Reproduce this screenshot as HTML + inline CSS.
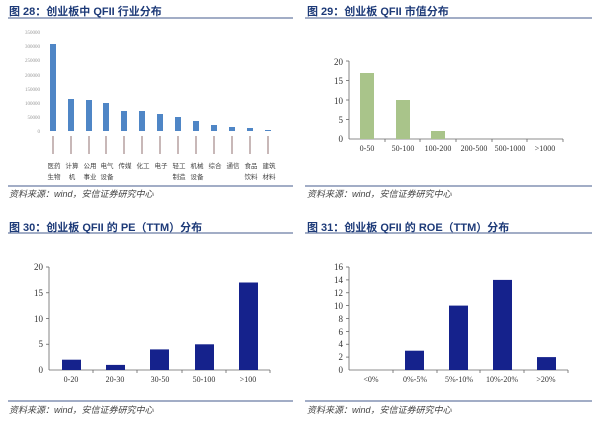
<!DOCTYPE html><html><head><meta charset="utf-8"><style>body{margin:0;background:#fff}svg{display:block}
.t{font:bold 11px "Liberation Sans","Noto Sans CJK SC",sans-serif;fill:#1d3a78}
.s{font:italic 9px "Liberation Sans","Noto Sans CJK SC",sans-serif;fill:#444}
.a{font:9px "Liberation Serif",serif;fill:#333}
.sm{font:5px "Liberation Serif",serif;fill:#999}
.c{font:6.5px "Liberation Sans","Noto Sans CJK SC",sans-serif;fill:#444}
</style></head><body>
<svg width="600" height="432" xmlns="http://www.w3.org/2000/svg">
<g stroke="#6a7ca3" stroke-width="1.2">
<line x1="8" y1="18" x2="293" y2="18"/><line x1="8" y1="186" x2="293" y2="186"/>
<line x1="305" y1="18" x2="592" y2="18"/><line x1="305" y1="186" x2="592" y2="186"/>
<line x1="8" y1="233" x2="293" y2="233"/><line x1="8" y1="401" x2="293" y2="401"/>
<line x1="305" y1="233" x2="592" y2="233"/><line x1="305" y1="401" x2="592" y2="401"/>
</g>
<text class="t" x="9" y="15">图 28：创业板中 QFII 行业分布</text>
<text class="t" x="307" y="15">图 29：创业板 QFII 市值分布</text>
<text class="t" x="9" y="231">图 30：创业板 QFII 的 PE（TTM）分布</text>
<text class="t" x="307" y="231">图 31：创业板 QFII 的 ROE（TTM）分布</text>
<text class="s" x="9" y="197">资料来源：wind，安信证券研究中心</text>
<text class="s" x="307" y="197">资料来源：wind，安信证券研究中心</text>
<text class="s" x="9" y="413">资料来源：wind，安信证券研究中心</text>
<text class="s" x="307" y="413">资料来源：wind，安信证券研究中心</text>

<!-- chart 28 -->
<g class="sm" text-anchor="end">
<text x="40" y="34">350000</text><text x="40" y="48">300000</text><text x="40" y="62">250000</text><text x="40" y="77">200000</text><text x="40" y="91">150000</text><text x="40" y="105">100000</text><text x="40" y="119">50000</text><text x="40" y="133">0</text>
</g>
<g fill="#4f86c6">
<rect x="50" y="44" width="6" height="87"/><rect x="68" y="99" width="6" height="32"/><rect x="86" y="100" width="6" height="31"/><rect x="103" y="103" width="6" height="28"/><rect x="121" y="111" width="6" height="20"/><rect x="139" y="111" width="6" height="20"/><rect x="157" y="114" width="6" height="17"/><rect x="175" y="117" width="6" height="14"/><rect x="193" y="121" width="6" height="10"/><rect x="211" y="125" width="6" height="6"/><rect x="229" y="127" width="6" height="4"/><rect x="247" y="128" width="6" height="3"/><rect x="265" y="130" width="6" height="1"/>
</g>
<g fill="#c8b8b8">
<rect x="52" y="136" width="2" height="18"/><rect x="70" y="136" width="2" height="18"/><rect x="88" y="136" width="2" height="18"/><rect x="105" y="136" width="2" height="18"/><rect x="123" y="136" width="2" height="18"/><rect x="141" y="136" width="2" height="18"/><rect x="159" y="136" width="2" height="18"/><rect x="177" y="136" width="2" height="18"/><rect x="195" y="136" width="2" height="18"/><rect x="213" y="136" width="2" height="18"/><rect x="231" y="136" width="2" height="18"/><rect x="249" y="136" width="2" height="18"/><rect x="267" y="136" width="2" height="18"/>
</g>
<g class="c" text-anchor="middle">
<text x="54" y="168">医药</text><text x="54" y="179">生物</text>
<text x="72" y="168">计算</text><text x="72" y="179">机</text>
<text x="90" y="168">公用</text><text x="90" y="179">事业</text>
<text x="107" y="168">电气</text><text x="107" y="179">设备</text>
<text x="125" y="168">传媒</text><text x="143" y="168">化工</text><text x="161" y="168">电子</text>
<text x="179" y="168">轻工</text><text x="179" y="179">制造</text>
<text x="197" y="168">机械</text><text x="197" y="179">设备</text>
<text x="215" y="168">综合</text><text x="233" y="168">通信</text>
<text x="251" y="168">食品</text><text x="251" y="179">饮料</text>
<text x="269" y="168">建筑</text><text x="269" y="179">材料</text>
</g>

<!-- chart 29 -->
<g stroke="#666" stroke-width="0.8">
<line x1="349" y1="61" x2="349" y2="139"/><line x1="349" y1="139" x2="563" y2="139"/>
<line x1="346" y1="61" x2="349" y2="61"/><line x1="346" y1="80.5" x2="349" y2="80.5"/><line x1="346" y1="100" x2="349" y2="100"/><line x1="346" y1="119.5" x2="349" y2="119.5"/>
<line x1="385" y1="139" x2="385" y2="142"/><line x1="420" y1="139" x2="420" y2="142"/><line x1="456" y1="139" x2="456" y2="142"/><line x1="492" y1="139" x2="492" y2="142"/><line x1="527" y1="139" x2="527" y2="142"/><line x1="563" y1="139" x2="563" y2="142"/>
</g>
<g class="a" text-anchor="end"><text x="343" y="65">20</text><text x="343" y="84">15</text><text x="343" y="104">10</text><text x="343" y="123">5</text><text x="343" y="142">0</text></g>
<g fill="#a9c48a"><rect x="360" y="73" width="14" height="66"/><rect x="396" y="100" width="14" height="39"/><rect x="431" y="131" width="14" height="8"/></g>
<g class="a" text-anchor="middle" style="font-size:8px"><text x="367" y="151">0-50</text><text x="403" y="151">50-100</text><text x="438" y="151">100-200</text><text x="474" y="151">200-500</text><text x="510" y="151">500-1000</text><text x="545" y="151">&gt;1000</text></g>

<!-- chart 30 -->
<g stroke="#666" stroke-width="0.8">
<line x1="49" y1="267" x2="49" y2="370"/><line x1="49" y1="370" x2="270" y2="370"/>
<line x1="46" y1="267" x2="49" y2="267"/><line x1="46" y1="292.75" x2="49" y2="292.75"/><line x1="46" y1="318.5" x2="49" y2="318.5"/><line x1="46" y1="344.25" x2="49" y2="344.25"/>
<line x1="93" y1="370" x2="93" y2="373"/><line x1="137" y1="370" x2="137" y2="373"/><line x1="182" y1="370" x2="182" y2="373"/><line x1="226" y1="370" x2="226" y2="373"/><line x1="270" y1="370" x2="270" y2="373"/>
</g>
<g class="a" text-anchor="end"><text x="43" y="270">20</text><text x="43" y="296">15</text><text x="43" y="322">10</text><text x="43" y="347">5</text><text x="43" y="373">0</text></g>
<g fill="#15228c"><rect x="62" y="359.7" width="19" height="10.3"/><rect x="106" y="364.9" width="19" height="5.1"/><rect x="150" y="349.4" width="19" height="20.6"/><rect x="195" y="344.3" width="19" height="25.7"/><rect x="239" y="282.5" width="19" height="87.5"/></g>
<g class="a" text-anchor="middle" style="font-size:8px"><text x="71" y="382">0-20</text><text x="115" y="382">20-30</text><text x="160" y="382">30-50</text><text x="204" y="382">50-100</text><text x="248" y="382">&gt;100</text></g>

<!-- chart 31 -->
<g stroke="#666" stroke-width="0.8">
<line x1="349" y1="267" x2="349" y2="370"/><line x1="349" y1="370" x2="568" y2="370"/>
<line x1="346" y1="267" x2="349" y2="267"/><line x1="346" y1="279.9" x2="349" y2="279.9"/><line x1="346" y1="292.75" x2="349" y2="292.75"/><line x1="346" y1="305.6" x2="349" y2="305.6"/><line x1="346" y1="318.5" x2="349" y2="318.5"/><line x1="346" y1="331.4" x2="349" y2="331.4"/><line x1="346" y1="344.25" x2="349" y2="344.25"/><line x1="346" y1="357.1" x2="349" y2="357.1"/>
<line x1="393" y1="370" x2="393" y2="373"/><line x1="437" y1="370" x2="437" y2="373"/><line x1="480" y1="370" x2="480" y2="373"/><line x1="524" y1="370" x2="524" y2="373"/><line x1="568" y1="370" x2="568" y2="373"/>
</g>
<g class="a" text-anchor="end"><text x="343" y="270">16</text><text x="343" y="283">14</text><text x="343" y="296">12</text><text x="343" y="309">10</text><text x="343" y="322">8</text><text x="343" y="335">6</text><text x="343" y="347">4</text><text x="343" y="360">2</text><text x="343" y="373">0</text></g>
<g fill="#15228c"><rect x="405" y="350.7" width="19" height="19.3"/><rect x="449" y="305.6" width="19" height="64.4"/><rect x="493" y="279.9" width="19" height="90.1"/><rect x="537" y="357.1" width="19" height="12.9"/></g>
<g class="a" text-anchor="middle" style="font-size:8px"><text x="371" y="382">&lt;0%</text><text x="415" y="382">0%-5%</text><text x="459" y="382">5%-10%</text><text x="502" y="382">10%-20%</text><text x="546" y="382">&gt;20%</text></g>
</svg></body></html>
